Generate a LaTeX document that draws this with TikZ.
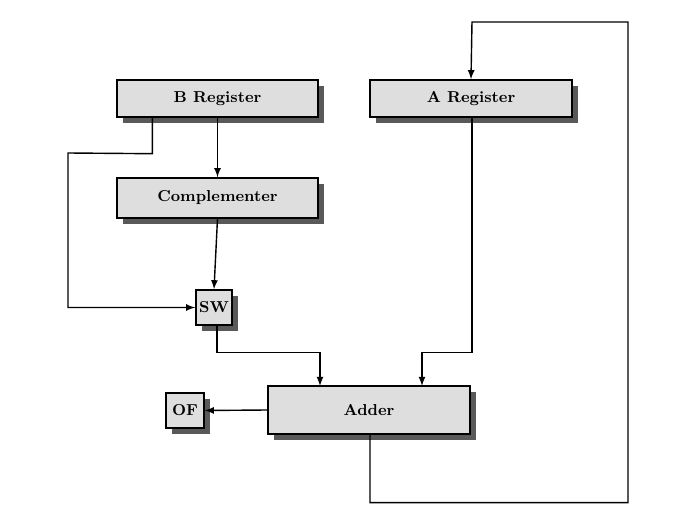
\documentclass[tikz,border=0pt]{standalone}
\usepackage{tikz}
\usetikzlibrary{shadows}
\begin{document}
\begin{tikzpicture}[x=0.02cm,y=-0.02cm,->,>=latex,thick]
    \tikzstyle{box}=[draw=black,fill=black!13,inner sep=0pt,font=\bfseries\small,
        drop shadow={shadow xshift=0.12cm,shadow yshift=-0.12cm,fill=black!65,opacity=1}]
    \useasboundingbox (0,0) rectangle (680,523);

    \node[box,minimum width=4.02cm,minimum height=0.74cm] (B) at (217.5,98.5) {B Register};
    \node[box,minimum width=4.04cm,minimum height=0.74cm] (A) at (471,98.5) {A Register};
    \node[box,minimum width=4.02cm,minimum height=0.8cm] (C) at (217.5,198) {Complementer};
    \node[box,minimum width=0.72cm,minimum height=0.7cm] (SW) at (214,307.5) {SW};
    \node[box,minimum width=4.04cm,minimum height=0.96cm] (Add) at (369,410) {Adder};
    \node[box,minimum width=0.76cm,minimum height=0.7cm] (OF) at (185,410.5) {OF};

    \coordinate (fb) at (472,22);
    \draw (B.south) -- (C.north);
    \draw (B.south west) ++(36,0) -- ++(0,36) -- (68,153) |- (SW.west);
    \draw (C.south) -- (SW.north);
    \draw (SW.south) ++(3,0) -- ++(0,27) -| (320,386);
    \draw (A.south) ++(1,0) -- ++(0,235) -| (422,386);
    \draw (Add.west) -- (OF.east);
    \draw (Add.south) ++(1,0) -- ++(0,68) -| (628,22) -- (fb) -- (A.north);
\end{tikzpicture}
\end{document}
